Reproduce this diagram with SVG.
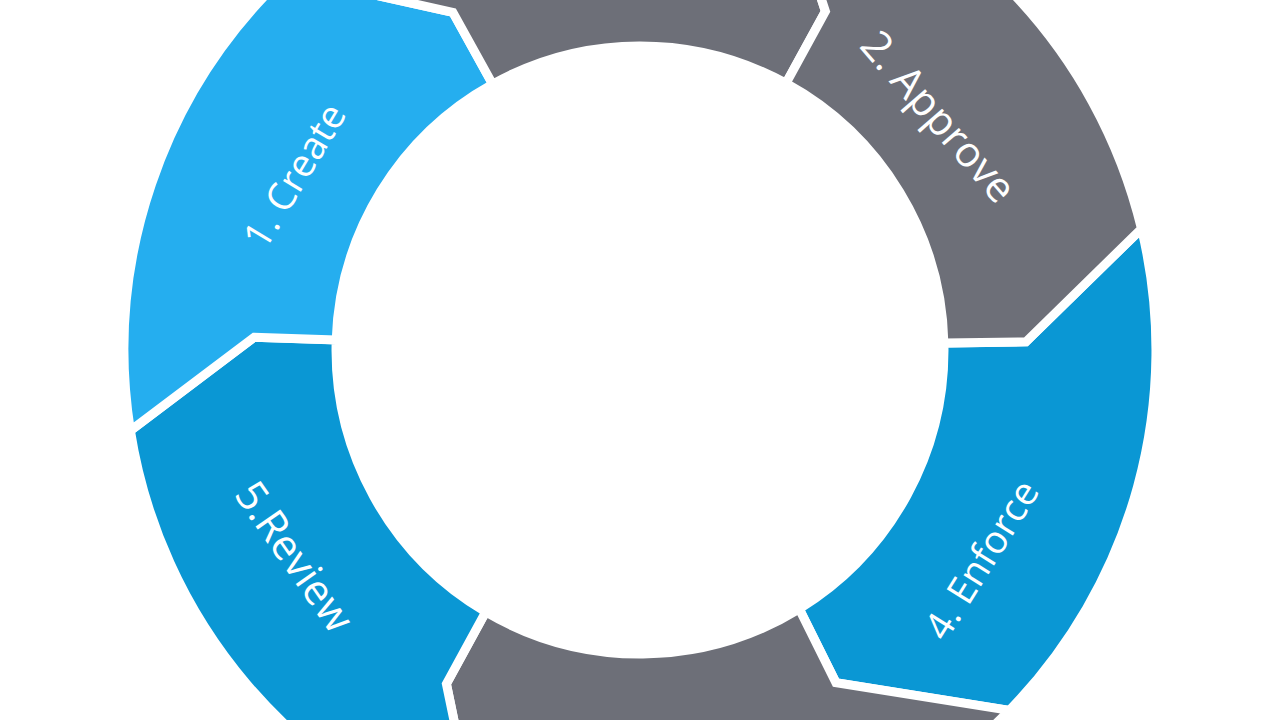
<svg xmlns="http://www.w3.org/2000/svg" width="1280" height="720" viewBox="0 0 1280 720">
<style>
.seg{stroke:#ffffff;stroke-width:9;stroke-linejoin:miter}
.light{fill:#25AEEF}
.blue{fill:#0A97D4}
.gray{fill:#6D6F78}
.lbl{font-family:"Open Sans","Noto Sans","DejaVu Sans",sans-serif;font-weight:400;font-size:42px;fill:#ffffff;text-anchor:middle}
.sm{font-size:38.5px}
</style>
<rect width="1280" height="720" fill="#ffffff"/>
<g id="seg-enforce">
<path class="seg blue" d="M1141.5,228.7 A516,516 0 0 1 1009.3,710.4 L835.9,682.6 L799.3,608.9 A304,304 0 0 0 943.9,343.1 L1025.9,341.9 Z"/>
<text class="lbl sm" transform="translate(982,560) rotate(-58)" y="13">4. Enforce</text>
</g>
<g id="seg-bottom">
<path class="seg gray" d="M1009.3,710.4 A516,516 0 0 1 478.8,840.2 L446.4,683.9 L485.7,611.9 A304,304 0 0 0 799.3,608.9 L835.9,682.6 Z"/>
</g>
<g id="seg-review">
<path class="seg blue" d="M478.8,840.2 A516,516 0 0 1 130.4,430.7 L254.2,337.2 L336.2,339.9 A304,304 0 0 0 485.7,611.9 L446.4,683.9 Z"/>
<text class="lbl" transform="translate(294,557) rotate(55)" y="14">5.Review</text>
</g>
<g id="seg-create">
<path class="seg light" d="M130.4,430.7 A516,516 0 0 1 285.5,-24.9 L452.9,12.4 L492.6,84.1 A304,304 0 0 0 336.2,339.9 L254.2,337.2 Z"/>
<text class="lbl sm" transform="translate(295,176) rotate(-59)" y="13">1. Create</text>
</g>
<g id="seg-top">
<path class="seg gray" d="M285.5,-24.9 A516,516 0 0 1 773.6,-148.4 L825.4,11.4 L786,83.3 A304,304 0 0 0 492.6,84.1 L452.9,12.4 Z"/>
</g>
<g id="seg-approve">
<path class="seg gray" d="M773.6,-148.4 A516,516 0 0 1 1141.5,228.7 L1025.9,341.9 L943.9,343.1 A304,304 0 0 0 786,83.3 L825.4,11.4 Z"/>
<text class="lbl" transform="translate(938,117) rotate(49)" y="14">2. Approve</text>
</g>
<g id="connectors"></g>
</svg>
